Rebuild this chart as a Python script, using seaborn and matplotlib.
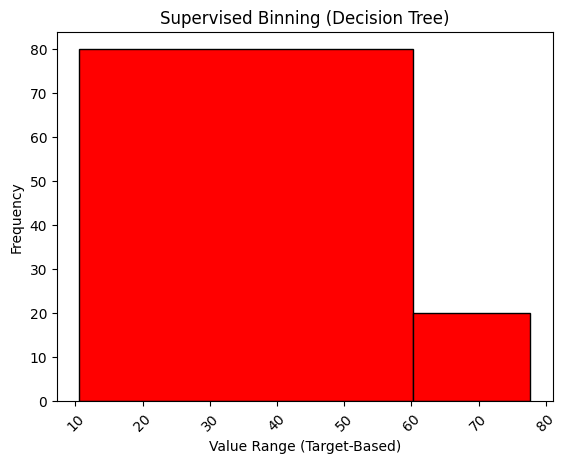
import matplotlib
matplotlib.use("Agg")
import matplotlib.pyplot as plt
import seaborn as sns

# bin edges chosen by the decision tree and the count in each bin
bin_edges = [10.6, 60.3, 77.7]
bin_counts = [80, 20]
bin_mids = [(bin_edges[i] + bin_edges[i + 1]) / 2 for i in range(len(bin_counts))]

plt.figure(figsize=(6.4, 4.8))
sns.histplot(x=bin_mids, weights=bin_counts, bins=bin_edges,
             color="red", edgecolor="black", alpha=1)
plt.title("Supervised Binning (Decision Tree)")
plt.xlabel("Value Range (Target-Based)")
plt.ylabel("Frequency")
plt.xticks(rotation=45)
plt.savefig("out.png", dpi=100, bbox_inches="tight")
plt.close()
